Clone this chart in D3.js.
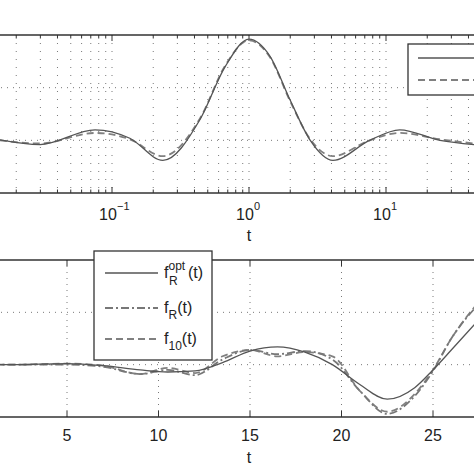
<!doctype html>
<html>
<head>
<meta charset="utf-8">
<style>
body{margin:0;background:#fff}
text{font-family:"Liberation Sans",Arial,sans-serif;fill:#222}
</style>
</head>
<body>
<svg id="chart" width="474" height="474"></svg>
<script src="https://cdn.jsdelivr.net/npm/d3@7"></script>
<script>
// top panel (log t)
var topT      = [0.0152, 0.0298, 0.0752, 0.135, 0.235, 0.44, 0.67, 1.0, 1.42, 2.0, 2.8, 4.1, 7.6, 12.6, 24.8, 43.9];
var topSolid  = [0.005, -0.04, 0.10, 0.02, -0.19, 0.20, 0.70, 0.96, 0.80, 0.38, 0.00, -0.19, 0.00, 0.10, 0.00, -0.04];
var topDashed = [0.00, -0.03, 0.07, 0.01, -0.15, 0.21, 0.71, 0.95, 0.79, 0.37, 0.01, -0.15, 0.00, 0.07, 0.01, -0.03];
var topTicks  = [0.1, 1, 10];
var topTickLabels = ["\u22121", "0", "1"];

// bottom panel (linear t)
var botT      = [0, 2, 5, 7, 9, 10.5, 12, 13.5, 15, 16.5, 18, 19.5, 21, 22.5, 24, 25, 26, 27.5];
var botOpt    = [0.0, 0.0, 0.01, -0.01, -0.05, -0.07, -0.06, 0.02, 0.13, 0.17, 0.12, 0.0, -0.19, -0.33, -0.22, -0.05, 0.14, 0.43];
var botFR     = [0.0, 0.0, 0.0, -0.02, -0.09, -0.05, -0.10, 0.05, 0.14, 0.10, 0.13, 0.05, -0.25, -0.47, -0.30, -0.06, 0.25, 0.58];
var botF10    = [0.0, 0.0, 0.01, -0.01, -0.09, -0.03, -0.08, 0.08, 0.14, 0.08, 0.12, 0.08, -0.25, -0.45, -0.28, -0.05, 0.25, 0.60];
var botTicks  = [5, 10, 15, 20, 25];
var yGrid     = [0, 0.5];

var svg = d3.select("#chart");
var line = "#333";

svg.append("clipPath").attr("id", "cTop").append("rect").attr("x", -5).attr("y", 35).attr("width", 485).attr("height", 158);
svg.append("clipPath").attr("id", "cBot").append("rect").attr("x", -5).attr("y", 260).attr("width", 485).attr("height", 157);

function frame(g, x0, x1, y0, y1) {
  g.append("rect").attr("x", x0).attr("y", y0).attr("width", x1 - x0).attr("height", y1 - y0)
    .attr("fill", "none").attr("stroke", line).attr("stroke-width", 1.5);
}

// ---------- top ----------
var xTop = d3.scaleLog().domain([Math.pow(10, -1 - 112 / 137), Math.pow(10, 1 + 88 / 137)]).range([0, 474]);
var yTop = d3.scaleLinear().domain([-0.5, 1]).range([193, 35]);
var gTop = svg.append("g");

var minor = [];
[0.01, 0.1, 1, 10].forEach(function(d) { for (var k = 1; k < 10; k++) { var v = d * k; if (v > xTop.domain()[0] && v < xTop.domain()[1]) minor.push(v); } });
gTop.selectAll(".vg").data(minor).enter().append("line")
  .attr("x1", function(d){return xTop(d);}).attr("x2", function(d){return xTop(d);})
  .attr("y1", 35).attr("y2", 193).attr("stroke", "#555").attr("stroke-width", 0.8).attr("stroke-dasharray", "1,7");
gTop.selectAll(".hg").data(yGrid).enter().append("line")
  .attr("x1", -5).attr("x2", 480).attr("y1", function(d){return yTop(d);}).attr("y2", function(d){return yTop(d);})
  .attr("stroke", "#555").attr("stroke-width", 0.8).attr("stroke-dasharray", "1,5");
minor.forEach(function(v) {
  var len = topTicks.indexOf(v) >= 0 ? 6 : 3.5;
  gTop.append("line").attr("x1", xTop(v)).attr("x2", xTop(v)).attr("y1", 35).attr("y2", 35 + len).attr("stroke", line);
  gTop.append("line").attr("x1", xTop(v)).attr("x2", xTop(v)).attr("y1", 193).attr("y2", 193 - len).attr("stroke", line);
});

var lTop = d3.line().x(function(d){return xTop(d[0]);}).y(function(d){return yTop(d[1]);}).curve(d3.curveMonotoneX);
gTop.append("path").attr("clip-path", "url(#cTop)").attr("d", lTop(d3.zip(topT, topDashed))).attr("fill", "none")
  .attr("stroke", "#808080").attr("stroke-width", 1.8).attr("stroke-dasharray", "7,4");
gTop.append("path").attr("clip-path", "url(#cTop)").attr("d", lTop(d3.zip(topT, topSolid))).attr("fill", "none")
  .attr("stroke", "#555").attr("stroke-width", 1.3);
frame(gTop, -5, 480, 35, 193);

// legend (cut off at right)
gTop.append("rect").attr("x", 408).attr("y", 44).attr("width", 80).attr("height", 51)
  .attr("fill", "#fff").attr("stroke", line).attr("stroke-width", 1.3);
gTop.append("line").attr("x1", 418).attr("x2", 474).attr("y1", 58).attr("y2", 58).attr("stroke", "#555").attr("stroke-width", 1.3);
gTop.append("line").attr("x1", 418).attr("x2", 474).attr("y1", 80).attr("y2", 80).attr("stroke", "#808080").attr("stroke-width", 1.8).attr("stroke-dasharray", "7,4");

topTicks.forEach(function(v, i) {
  gTop.append("text").attr("x", xTop(v) - 4).attr("y", 220).attr("text-anchor", "middle").attr("font-size", 16).text("10");
  gTop.append("text").attr("x", xTop(v) + 5).attr("y", 210).attr("font-size", 11).text(topTickLabels[i]);
});
gTop.append("text").attr("x", 249).attr("y", 241).attr("text-anchor", "middle").attr("font-size", 16).text("t");

// ---------- bottom ----------
var xBot = d3.scaleLinear().domain([5 - 67 / 18.3, 5 + (474 - 67) / 18.3]).range([0, 474]);
var yBot = d3.scaleLinear().domain([-0.5, 1]).range([417, 260]);
var gBot = svg.append("g");
gBot.selectAll(".vg").data(botTicks).enter().append("line")
  .attr("x1", function(d){return xBot(d);}).attr("x2", function(d){return xBot(d);})
  .attr("y1", 260).attr("y2", 417).attr("stroke", "#555").attr("stroke-width", 0.8).attr("stroke-dasharray", "1,5");
gBot.selectAll(".hg").data(yGrid).enter().append("line")
  .attr("x1", -5).attr("x2", 480).attr("y1", function(d){return yBot(d);}).attr("y2", function(d){return yBot(d);})
  .attr("stroke", "#555").attr("stroke-width", 0.8).attr("stroke-dasharray", "1,5");
botTicks.forEach(function(v) {
  gBot.append("line").attr("x1", xBot(v)).attr("x2", xBot(v)).attr("y1", 260).attr("y2", 266).attr("stroke", line);
  gBot.append("line").attr("x1", xBot(v)).attr("x2", xBot(v)).attr("y1", 417).attr("y2", 411).attr("stroke", line);
  gBot.append("text").attr("x", xBot(v)).attr("y", 441).attr("text-anchor", "middle").attr("font-size", 16).text(v);
});
gBot.append("text").attr("x", 249).attr("y", 463).attr("text-anchor", "middle").attr("font-size", 16).text("t");

var lBot = d3.line().x(function(d){return xBot(d[0]);}).y(function(d){return yBot(d[1]);}).curve(d3.curveMonotoneX);
var styles = [
  {data: botF10, color: "#808080", w: 1.8, dash: "7,4"},
  {data: botFR, color: "#777", w: 1.8, dash: "8,3,2,3"},
  {data: botOpt, color: "#555", w: 1.3, dash: null}
];
styles.forEach(function(s) {
  gBot.append("path").attr("clip-path", "url(#cBot)").attr("d", lBot(d3.zip(botT, s.data))).attr("fill", "none")
    .attr("stroke", s.color).attr("stroke-width", s.w).attr("stroke-dasharray", s.dash);
});
frame(gBot, -5, 480, 260, 417);

// legend
var lg = gBot.append("g");
lg.append("rect").attr("x", 94).attr("y", 251).attr("width", 118).attr("height", 109)
  .attr("fill", "#fff").attr("stroke", line).attr("stroke-width", 1.3);
var legY = [273, 308, 339];
var subs = ["R", "R", "10"];
var sups = ["opt", null, null];
[styles[2], styles[1], styles[0]].forEach(function(s, i) {
  lg.append("line").attr("x1", 105).attr("x2", 158).attr("y1", legY[i]).attr("y2", legY[i])
    .attr("stroke", s.color).attr("stroke-width", s.w).attr("stroke-dasharray", s.dash);
  var t = lg.append("text").attr("x", 164).attr("y", legY[i] + 5).attr("font-size", 16);
  t.append("tspan").text("f");
  if (sups[i]) {
    t.append("tspan").attr("font-size", 12).attr("dy", -8).text(sups[i]);
    t.append("tspan").attr("font-size", 12).attr("x", 169).attr("dy", 15).text(subs[i]);
    t.append("tspan").attr("dy", -7).attr("x", 188).text("(t)");
  } else {
    t.append("tspan").attr("font-size", 12).attr("dy", 6).text(subs[i]);
    t.append("tspan").attr("dy", -6).text("(t)");
  }
});
</script>
</body>
</html>
